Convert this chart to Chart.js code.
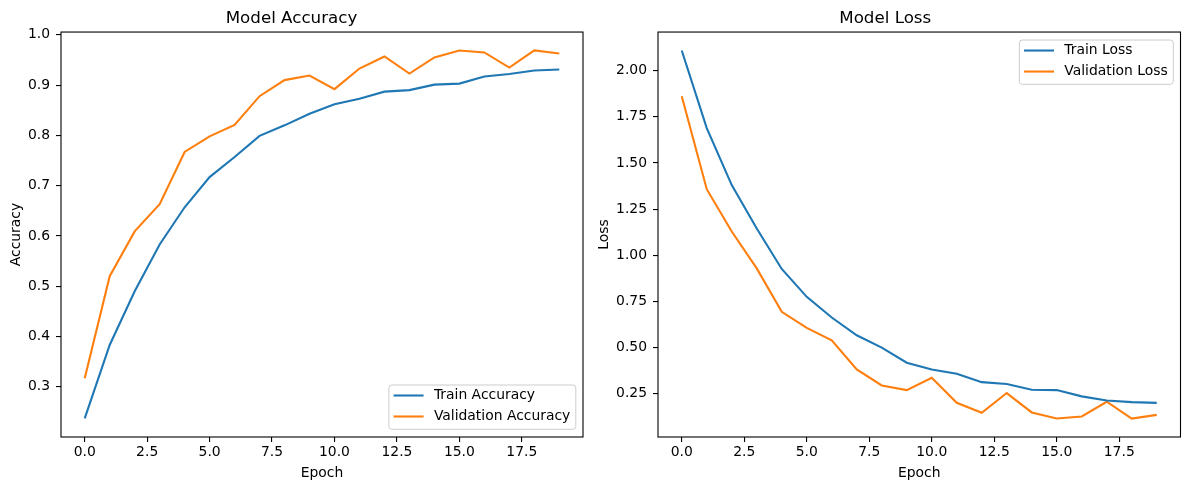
<!DOCTYPE html>
<html>
<head>
<meta charset="utf-8">
<title>Model Accuracy / Model Loss</title>
<script src="https://cdn.jsdelivr.net/npm/chart.js@4/dist/chart.umd.min.js"></script>
<style>
    html, body { margin: 0; padding: 0; background: #fff; }
    body { width: 1189px; height: 490px; position: relative; overflow: hidden; }
    .panel { position: absolute; top: 0; height: 490px; }
    #accPanel { left: 0; width: 590px; }
    #lossPanel { left: 590px; width: 599px; }
</style>
</head>
<body>
<div class="panel" id="accPanel"><canvas id="accChart"></canvas></div>
<div class="panel" id="lossPanel"><canvas id="lossChart"></canvas></div>
<script>
var epochs = [0, 1, 2, 3, 4, 5, 6, 7, 8, 9, 10, 11, 12, 13, 14, 15, 16, 17, 18, 19];

var trainAcc = [0.237, 0.383, 0.490, 0.583, 0.657, 0.717, 0.757, 0.799, 0.820, 0.843,
                0.862, 0.873, 0.887, 0.890, 0.901, 0.903, 0.917, 0.922, 0.929, 0.931];
var valAcc   = [0.317, 0.520, 0.609, 0.663, 0.767, 0.798, 0.821, 0.878, 0.910, 0.919,
                0.892, 0.933, 0.957, 0.923, 0.955, 0.969, 0.965, 0.935, 0.969, 0.963];

var trainLoss = [2.109, 1.689, 1.380, 1.145, 0.926, 0.775, 0.663, 0.567, 0.500, 0.418,
                 0.382, 0.359, 0.313, 0.303, 0.272, 0.270, 0.236, 0.214, 0.205, 0.201];
var valLoss   = [1.861, 1.358, 1.129, 0.929, 0.694, 0.607, 0.540, 0.382, 0.295, 0.270,
                 0.337, 0.201, 0.147, 0.254, 0.149, 0.116, 0.127, 0.207, 0.116, 0.136];

var epochTicks = [0, 2.5, 5, 7.5, 10, 12.5, 15, 17.5];
var accTicks = [0.3, 0.4, 0.5, 0.6, 0.7, 0.8, 0.9, 1.0];
var lossTicks = [0.25, 0.5, 0.75, 1.0, 1.25, 1.5, 1.75, 2.0];

var BLUE = '#1f77b4';
var ORANGE = '#ff7f0e';
var FONT = 'DejaVu Sans';

function points(ys) {
    return epochs.map(function (x, i) { return { x: x, y: ys[i] }; });
}

// matplotlib draws all four spines
var framePlugin = {
    id: 'frame',
    afterDatasetsDraw: function (chart) {
        var a = chart.chartArea, ctx = chart.ctx;
        ctx.save();
        ctx.strokeStyle = '#000';
        ctx.lineWidth = 1.1;
        ctx.strokeRect(a.left, a.top, a.right - a.left, a.bottom - a.top);
        ctx.restore();
    }
};

// legend box inside the axes, matplotlib style
var boxLegend = {
    id: 'boxLegend',
    afterDraw: function (chart, args, opts) {
        var a = chart.chartArea, ctx = chart.ctx;
        var sets = chart.data.datasets;
        ctx.save();
        ctx.font = '13.9px "' + FONT + '"';
        var textW = 0;
        sets.forEach(function (ds) { textW = Math.max(textW, ctx.measureText(ds.label).width); });
        var w = 4.7 + 30 + 10.3 + textW + 5.5;
        var h = 44.3;
        var right = a.right - 7.2;
        var left = right - w;
        var top = opts.corner === 'upper right' ? a.top + 8 : a.bottom - 7.7 - h;
        var r = 3;
        ctx.beginPath();
        ctx.moveTo(left + r, top);
        ctx.arcTo(left + w, top, left + w, top + h, r);
        ctx.arcTo(left + w, top + h, left, top + h, r);
        ctx.arcTo(left, top + h, left, top, r);
        ctx.arcTo(left, top, left + w, top, r);
        ctx.closePath();
        ctx.fillStyle = 'rgba(255,255,255,0.8)';
        ctx.fill();
        ctx.strokeStyle = '#cccccc';
        ctx.lineWidth = 1;
        ctx.stroke();
        sets.forEach(function (ds, i) {
            var y = top + 10.5 + i * 21;
            ctx.beginPath();
            ctx.moveTo(left + 4.7, y);
            ctx.lineTo(left + 34.7, y);
            ctx.strokeStyle = ds.borderColor;
            ctx.lineWidth = 2.1;
            ctx.stroke();
            ctx.fillStyle = '#000';
            ctx.textBaseline = 'middle';
            ctx.textAlign = 'left';
            ctx.fillText(ds.label, left + 45, y);
        });
        ctx.restore();
    }
};

function makeChart(id, cfg) {
    return new Chart(document.getElementById(id), {
        type: 'line',
        data: {
            datasets: [
                { label: cfg.labels[0], data: points(cfg.series[0]), borderColor: BLUE, backgroundColor: BLUE, borderWidth: 2.1, pointRadius: 0, tension: 0, fill: false },
                { label: cfg.labels[1], data: points(cfg.series[1]), borderColor: ORANGE, backgroundColor: ORANGE, borderWidth: 2.1, pointRadius: 0, tension: 0, fill: false }
            ]
        },
        options: {
            responsive: true,
            maintainAspectRatio: false,
            animation: false,
            events: [],
            layout: { padding: { left: 0, right: cfg.padRight, top: 0, bottom: 0 } },
            scales: {
                x: {
                    type: 'linear',
                    min: -0.95,
                    max: 19.95,
                    afterBuildTicks: function (s) { s.ticks = epochTicks.map(function (v) { return { value: v }; }); },
                    afterFit: function (s) { s.height = 53; },
                    ticks: {
                        autoSkip: false, maxRotation: 0, padding: 2.5, color: '#000',
                        font: { family: FONT, size: 13.9 },
                        callback: function (v) { return Number(v).toFixed(1); }
                    },
                    grid: { drawOnChartArea: false, tickLength: 5, color: '#000', lineWidth: 1.1 },
                    border: { display: false },
                    title: { display: true, text: 'Epoch', color: '#000', font: { family: FONT, size: 13.9 }, padding: { top: 0, bottom: 8.5 } }
                },
                y: {
                    min: cfg.yMin,
                    max: cfg.yMax,
                    afterBuildTicks: function (s) { s.ticks = cfg.yTicks.map(function (v) { return { value: v }; }); },
                    afterFit: function (s) { s.width = cfg.yWidth; },
                    ticks: {
                        autoSkip: false, padding: 6, color: '#000',
                        font: { family: FONT, size: 13.9 },
                        callback: function (v) { return Number(v).toFixed(cfg.yDigits); }
                    },
                    grid: { drawOnChartArea: false, tickLength: 5, color: '#000', lineWidth: 1.1 },
                    border: { display: false },
                    title: { display: true, text: cfg.yTitle, color: '#000', font: { family: FONT, size: 13.9 }, padding: { top: cfg.yTitlePad, bottom: 0 } }
                }
            },
            plugins: {
                legend: { display: false },
                tooltip: { enabled: false },
                title: {
                    display: true, text: cfg.title, color: '#000',
                    font: { family: FONT, size: 16.7, weight: 'normal' },
                    padding: { top: 9, bottom: 3 }
                },
                boxLegend: { corner: cfg.legendCorner }
            }
        },
        plugins: [framePlugin, boxLegend]
    });
}

makeChart('accChart', {
    title: 'Model Accuracy',
    labels: ['Train Accuracy', 'Validation Accuracy'],
    series: [trainAcc, valAcc],
    yMin: 0.200, yMax: 1.0056,
    yTicks: accTicks, yDigits: 1,
    yTitle: 'Accuracy', yTitlePad: 8.2,
    yWidth: 61, padRight: 7,
    legendCorner: 'lower right'
});

makeChart('lossChart', {
    title: 'Model Loss',
    labels: ['Train Loss', 'Validation Loss'],
    series: [trainLoss, valLoss],
    yMin: 0.016, yMax: 2.209,
    yTicks: lossTicks, yDigits: 2,
    yTitle: 'Loss', yTitlePad: 5.7,
    yWidth: 68, padRight: 8.5,
    legendCorner: 'upper right'
});
</script>
</body>
</html>
